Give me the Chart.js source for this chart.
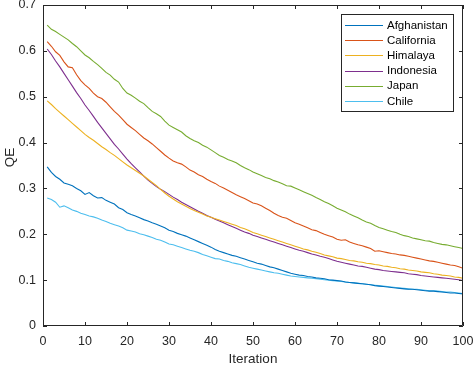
<!DOCTYPE html>
<html>
<head>
<meta charset="utf-8">
<script src="https://cdn.jsdelivr.net/npm/chart.js@4.4.1/dist/chart.umd.min.js"></script>
<style>
html,body{margin:0;padding:0;background:#fff;}
#wrap{width:474px;height:366px;position:relative;}
</style>
</head>
<body>
<div id="wrap"><canvas id="c" width="474" height="366"></canvas></div>
<script>
const iterations = [1,2,3,4,5,6,7,8,9,10,11,12,13,14,15,16,17,18,19,20,21,22,23,24,25,26,27,28,29,30,31,32,33,34,35,36,37,38,39,40,41,42,43,44,45,46,47,48,49,50,51,52,53,54,55,56,57,58,59,60,61,62,63,64,65,66,67,68,69,70,71,72,73,74,75,76,77,78,79,80,81,82,83,84,85,86,87,88,89,90,91,92,93,94,95,96,97,98,99,100];

const seriesNames = ["Afghanistan","California","Himalaya","Indonesia","Japan","Chile"];

const afghanistan = [0.347,0.335,0.326,0.320,0.312,0.309,0.306,0.300,0.295,0.287,
0.291,0.284,0.279,0.280,0.274,0.270,0.266,0.258,0.254,0.247,
0.243,0.240,0.236,0.232,0.229,0.225,0.222,0.218,0.214,0.209,
0.206,0.202,0.199,0.196,0.192,0.188,0.184,0.180,0.176,0.172,
0.167,0.163,0.160,0.157,0.154,0.152,0.149,0.146,0.143,0.140,
0.137,0.135,0.132,0.129,0.127,0.124,0.121,0.118,0.115,0.113,
0.111,0.110,0.108,0.107,0.105,0.104,0.103,0.101,0.100,0.099,
0.098,0.096,0.095,0.094,0.093,0.092,0.091,0.090,0.088,0.087,
0.086,0.085,0.084,0.083,0.082,0.081,0.080,0.080,0.079,0.078,
0.077,0.076,0.076,0.075,0.074,0.073,0.072,0.072,0.071,0.070];

const california = [0.620,0.610,0.598,0.590,0.576,0.565,0.563,0.548,0.535,0.526,
0.518,0.508,0.500,0.496,0.488,0.478,0.468,0.460,0.450,0.440,
0.433,0.426,0.418,0.410,0.404,0.397,0.389,0.381,0.373,0.366,
0.360,0.356,0.353,0.347,0.340,0.336,0.330,0.326,0.320,0.315,
0.311,0.305,0.301,0.296,0.291,0.286,0.282,0.278,0.273,0.268,
0.266,0.262,0.257,0.252,0.246,0.241,0.237,0.235,0.230,0.225,
0.222,0.218,0.214,0.210,0.208,0.204,0.200,0.197,0.194,0.189,
0.187,0.188,0.183,0.180,0.177,0.175,0.172,0.169,0.163,0.164,
0.162,0.160,0.158,0.157,0.155,0.154,0.152,0.150,0.148,0.146,
0.144,0.142,0.141,0.139,0.137,0.135,0.133,0.132,0.129,0.126];

const himalaya = [0.491,0.483,0.474,0.466,0.458,0.450,0.442,0.434,0.426,0.418,
0.411,0.405,0.398,0.391,0.385,0.378,0.372,0.365,0.358,0.351,
0.345,0.339,0.333,0.327,0.320,0.313,0.306,0.298,0.290,0.283,
0.277,0.271,0.266,0.261,0.256,0.252,0.248,0.244,0.240,0.237,
0.234,0.231,0.228,0.225,0.222,0.219,0.215,0.212,0.208,0.204,
0.201,0.198,0.195,0.192,0.189,0.186,0.183,0.180,0.177,0.174,
0.171,0.168,0.166,0.163,0.161,0.158,0.155,0.153,0.151,0.148,
0.147,0.145,0.143,0.142,0.140,0.139,0.137,0.136,0.134,0.133,
0.131,0.130,0.128,0.127,0.125,0.124,0.122,0.121,0.120,0.118,
0.117,0.116,0.114,0.113,0.111,0.110,0.109,0.107,0.106,0.104];

const indonesia = [0.604,0.592,0.578,0.565,0.551,0.537,0.523,0.509,0.496,0.482,
0.470,0.457,0.444,0.432,0.420,0.408,0.396,0.386,0.375,0.364,
0.354,0.345,0.336,0.327,0.318,0.311,0.304,0.298,0.293,0.287,
0.281,0.276,0.270,0.265,0.260,0.255,0.250,0.246,0.241,0.237,
0.233,0.229,0.225,0.221,0.217,0.213,0.209,0.205,0.202,0.198,
0.195,0.192,0.189,0.186,0.183,0.180,0.177,0.174,0.171,0.168,
0.165,0.163,0.160,0.157,0.155,0.152,0.150,0.147,0.144,0.141,
0.139,0.137,0.135,0.133,0.131,0.130,0.128,0.126,0.124,0.123,
0.121,0.120,0.119,0.118,0.117,0.116,0.114,0.113,0.112,0.110,
0.109,0.108,0.107,0.106,0.105,0.104,0.103,0.102,0.101,0.099];

const japan = [0.656,0.647,0.642,0.636,0.630,0.624,0.616,0.609,0.600,0.591,
0.585,0.577,0.570,0.562,0.553,0.547,0.538,0.532,0.518,0.508,
0.503,0.497,0.490,0.485,0.476,0.468,0.463,0.457,0.447,0.438,
0.433,0.428,0.423,0.415,0.409,0.404,0.400,0.394,0.390,0.384,
0.378,0.372,0.368,0.363,0.360,0.356,0.350,0.345,0.341,0.336,
0.332,0.328,0.324,0.321,0.317,0.314,0.310,0.306,0.305,0.301,
0.297,0.293,0.289,0.285,0.280,0.276,0.271,0.267,0.262,0.257,
0.253,0.249,0.244,0.240,0.236,0.231,0.227,0.224,0.219,0.215,
0.212,0.209,0.206,0.204,0.200,0.197,0.195,0.192,0.190,0.188,
0.186,0.185,0.182,0.180,0.178,0.177,0.175,0.173,0.171,0.169];

const chile = [0.279,0.276,0.270,0.259,0.262,0.258,0.253,0.250,0.246,0.243,
0.240,0.238,0.235,0.231,0.228,0.224,0.221,0.218,0.214,0.209,
0.207,0.205,0.201,0.199,0.196,0.193,0.189,0.187,0.183,0.179,
0.177,0.174,0.171,0.168,0.165,0.163,0.160,0.156,0.153,0.150,
0.147,0.146,0.143,0.141,0.138,0.136,0.134,0.131,0.128,0.126,
0.124,0.122,0.120,0.118,0.116,0.115,0.113,0.111,0.109,0.108,
0.107,0.106,0.105,0.104,0.103,0.102,0.101,0.100,0.099,0.098,
0.097,0.096,0.095,0.094,0.093,0.092,0.091,0.090,0.089,0.088,
0.087,0.086,0.085,0.084,0.083,0.082,0.081,0.080,0.080,0.079,
0.078,0.077,0.077,0.076,0.075,0.074,0.074,0.073,0.072,0.071];

const xTicks = [0,10,20,30,40,50,60,70,80,90,100];
const yTicks = [0,0.1,0.2,0.3,0.4,0.5,0.6,0.7];
const xTitle = "Iteration";
const yTitle = "QE";

const seriesValues = [afghanistan, california, himalaya, indonesia, japan, chile];
const colors = ["#0072BD","#D95319","#EDB120","#7E2F8E","#77AC30","#4DBEEE"];

const FONT = "'Liberation Sans', Arial, Helvetica, sans-serif";
const AXIS = "#262626";

const datasets = seriesNames.map((name, k) => ({
  label: name,
  data: iterations.map((it, i) => ({x: it, y: seriesValues[k][i]})),
  borderColor: colors[k],
  backgroundColor: colors[k],
  borderWidth: 1.1,
  pointRadius: 0,
  tension: 0,
  fill: false
}));

const boxPlugin = {
  id: 'matlabBox',
  afterDraw(chart) {
    const {ctx, chartArea: a, scales} = chart;
    ctx.save();
    ctx.strokeStyle = AXIS;
    ctx.lineWidth = 1;
    ctx.beginPath();
    ctx.rect(Math.round(a.left) + 0.5, Math.round(a.top) + 0.5, Math.round(a.right - a.left) - 1, Math.round(a.bottom - a.top) - 1);
    ctx.stroke();
    const tl = 4;
    ctx.beginPath();
    scales.x.ticks.forEach(t => {
      const px = Math.round(scales.x.getPixelForValue(t.value)) + 0.5;
      ctx.moveTo(px, a.bottom); ctx.lineTo(px, a.bottom - tl);
      ctx.moveTo(px, a.top); ctx.lineTo(px, a.top + tl);
    });
    scales.y.ticks.forEach(t => {
      const py = Math.round(scales.y.getPixelForValue(t.value)) + 0.5;
      ctx.moveTo(a.left, py); ctx.lineTo(a.left + tl, py);
      ctx.moveTo(a.right, py); ctx.lineTo(a.right - tl, py);
    });
    ctx.stroke();

    // y axis title (MATLAB places it slightly above the axis middle here)
    ctx.save();
    ctx.translate(10, (a.top + a.bottom) / 2 - 8);
    ctx.rotate(-Math.PI / 2);
    ctx.font = "13.5px " + FONT;
    ctx.fillStyle = AXIS;
    ctx.textAlign = 'center';
    ctx.textBaseline = 'middle';
    ctx.fillText(yTitle, 0, 0);
    ctx.restore();

    // legend
    const lx = 341, ly = 14, lw = 112, lh = 97;
    ctx.fillStyle = '#fff';
    ctx.fillRect(lx, ly, lw, lh);
    ctx.strokeStyle = AXIS;
    ctx.lineWidth = 1;
    ctx.strokeRect(lx + 0.5, ly + 0.5, lw, lh);
    ctx.font = "11.5px " + FONT;
    ctx.textBaseline = 'middle';
    ctx.textAlign = 'left';
    chart.data.datasets.forEach((ds, i) => {
      const y = ly + 11 + i * 15.2;
      ctx.strokeStyle = ds.borderColor;
      ctx.lineWidth = 1.1;
      ctx.beginPath();
      ctx.moveTo(345, Math.round(y) + 0.5);
      ctx.lineTo(383, Math.round(y) + 0.5);
      ctx.stroke();
      ctx.fillStyle = '#000';
      ctx.fillText(ds.label, 387, y + 0.5);
    });
    ctx.restore();
  }
};

new Chart(document.getElementById('c'), {
  type: 'line',
  data: { datasets },
  options: {
    responsive: false,
    animation: false,
    devicePixelRatio: 1,
    layout: { padding: 0 },
    plugins: { legend: { display: false }, tooltip: { enabled: false } },
    scales: {
      x: {
        type: 'linear',
        min: 0, max: 100,
        afterBuildTicks(s) { s.ticks = xTicks.map(v => ({value: v})); },
        afterFit(s) { s.height = 40; s.paddingLeft = 0; s.paddingRight = 11; },
        grid: { display: false, drawTicks: false },
        border: { display: false },
        ticks: { color: AXIS, padding: 8, maxRotation: 0, autoSkip: false, font: { family: FONT, size: 12.5 } },
        title: { display: true, text: xTitle, color: AXIS, padding: {top: 0, bottom: 0}, font: { family: FONT, size: 13.5, lineHeight: 1 } }
      },
      y: {
        type: 'linear',
        min: 0, max: 0.7,
        afterBuildTicks(s) { s.ticks = yTicks.map(v => ({value: v})); },
        afterFit(s) { s.width = 43; s.paddingTop = 5; s.paddingBottom = 0; },
        grid: { display: false, drawTicks: false },
        border: { display: false },
        ticks: { color: AXIS, padding: 7, autoSkip: false, font: { family: FONT, size: 12.5 },
          callback: v => String(Math.round(v * 10) / 10) },
        title: { display: false }
      }
    }
  },
  plugins: [boxPlugin]
});
</script>
</body>
</html>
